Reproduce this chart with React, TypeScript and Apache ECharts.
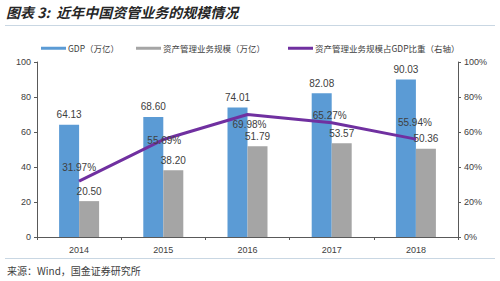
import React, { useEffect, useRef } from "react";
import * as echarts from "echarts";

const years = ["2014", "2015", "2016", "2017", "2018"];
const gdp = [64.13, 68.6, 74.01, 82.08, 90.03];
const assetMgmt = [20.5, 38.2, 51.79, 53.57, 50.36];
const ratio = [31.97, 55.69, 69.98, 65.27, 55.94];
const seriesNames = ["GDP（万亿）", "资产管理业务规模（万亿）", "资产管理业务规模占GDP比重（右轴）"];
const titleText = "图表 3:  近年中国资管业务的规模情况";
const sourceText = "来源：Wind，国金证券研究所";

// label offsets for the ratio line (style only, as placed in the original)
const ratioLabelOffsets = [
  [0, -14],
  [1, 1],
  [2, 10],
  [-2, -7],
  [-1, -17],
];

const NUM_FONT = "'Liberation Sans', Arial, sans-serif";
const CJK_FONT = "'Noto Sans CJK SC', 'Liberation Sans', sans-serif";

export default function App() {
  const ref = useRef<HTMLDivElement>(null);
  useEffect(() => {
    if (!ref.current) return;
    const chart = echarts.init(ref.current, undefined, { renderer: "svg" });
    const labelStyle = { fontFamily: NUM_FONT, fontSize: 10, color: "#404040" };
    const legendBase = {
      top: 39,
      itemWidth: 25,
      itemHeight: 3,
      itemGap: 4,
      textStyle: { fontFamily: CJK_FONT, fontSize: 8.5, color: "#404040", padding: [0, 0, 0, -3] },
    };
    const legendLefts = [36, 131, 283];
    chart.setOption({
      animation: false,
      backgroundColor: "#ffffff",
      grid: { left: 37, right: 42, top: 62, bottom: 44 },
      legend: seriesNames.map((n, i) => ({
        ...legendBase,
        left: legendLefts[i],
        data: [{ name: n, icon: "rect" }],
      })),
      xAxis: {
        type: "category",
        data: years,
        axisLine: { lineStyle: { color: "#595959", width: 1 } },
        axisTick: { show: true, length: 3, lineStyle: { color: "#595959" } },
        axisLabel: { fontFamily: NUM_FONT, fontSize: 9, color: "#404040", margin: 8 },
      },
      yAxis: [
        {
          type: "value",
          min: 0,
          max: 100,
          interval: 20,
          splitLine: { show: false },
          axisLine: { show: true, lineStyle: { color: "#595959" } },
          axisTick: { show: true, length: 3, lineStyle: { color: "#595959" } },
          axisLabel: { fontFamily: NUM_FONT, fontSize: 9, color: "#404040", margin: 6 },
        },
        {
          type: "value",
          min: 0,
          max: 100,
          interval: 20,
          position: "right",
          splitLine: { show: false },
          axisLine: { show: true, lineStyle: { color: "#595959" } },
          axisTick: { show: true, length: 3, lineStyle: { color: "#595959" } },
          axisLabel: {
            fontFamily: NUM_FONT,
            fontSize: 9,
            color: "#404040",
            margin: 6,
            formatter: "{value}%",
          },
        },
      ],
      series: [
        {
          name: seriesNames[0],
          type: "bar",
          data: gdp,
          barWidth: 20,
          barGap: "0%",
          itemStyle: { color: "#5B9BD5" },
          label: { show: true, position: "top", formatter: (p: any) => p.value.toFixed(2), ...labelStyle },
        },
        {
          name: seriesNames[1],
          type: "bar",
          data: assetMgmt,
          barWidth: 20,
          barGap: "0%",
          itemStyle: { color: "#A5A5A5" },
          label: { show: true, position: "top", formatter: (p: any) => p.value.toFixed(2), ...labelStyle },
        },
        {
          name: seriesNames[2],
          type: "line",
          yAxisIndex: 1,
          data: ratio.map((v, i) => ({
            value: v,
            label: { offset: ratioLabelOffsets[i] },
          })),
          symbol: "circle",
          symbolSize: 1,
          showSymbol: true,
          lineStyle: { color: "#7030A0", width: 3 },
          itemStyle: { color: "#7030A0" },
          z: 5,
          label: {
            show: true,
            position: "inside",
            formatter: (p: any) => Number(p.value).toFixed(2) + "%",
            ...labelStyle,
          },
        },
      ],
      graphic: [
        {
          type: "text",
          left: 6,
          top: 5,
          style: {
            text: titleText,
            fontFamily: CJK_FONT,
            fontSize: 14,
            fontWeight: "bold",
            fontStyle: "italic",
            fill: "#262626",
          },
        },
        {
          type: "line",
          shape: { x1: 5, y1: 25.5, x2: 495, y2: 25.5 },
          style: { stroke: "#C9D7E3", lineWidth: 1 },
        },
        {
          type: "line",
          shape: { x1: 5, y1: 258.5, x2: 495, y2: 258.5 },
          style: { stroke: "#C9D7E3", lineWidth: 1 },
        },
        {
          type: "text",
          left: 7,
          top: 265,
          style: {
            text: sourceText,
            fontFamily: CJK_FONT,
            fontSize: 10,
            fill: "#404040",
          },
        },
      ],
    });
    return () => chart.dispose();
  }, []);
  return <div ref={ref} style={{ width: 500, height: 281, position: "absolute", left: 0, top: 0 }} />;
}
